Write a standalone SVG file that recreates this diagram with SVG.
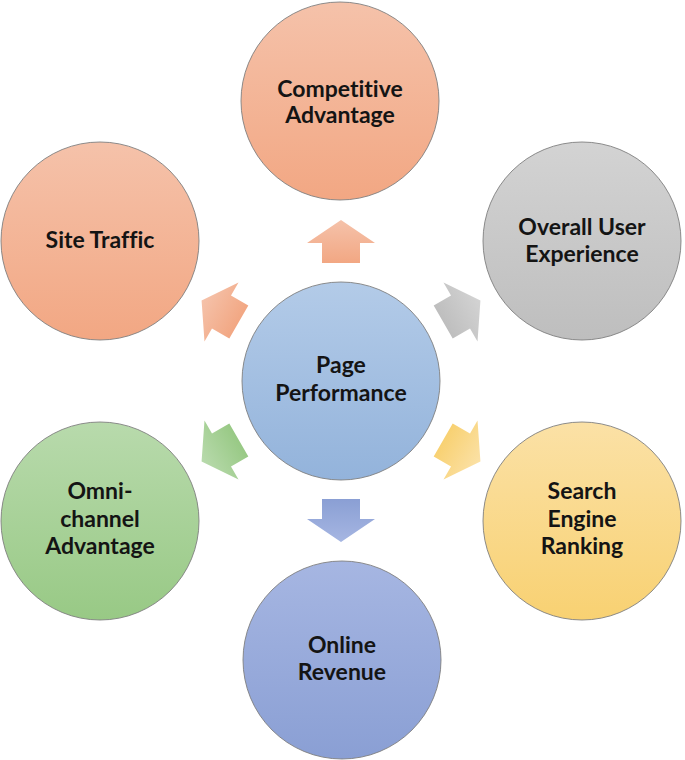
<svg xmlns="http://www.w3.org/2000/svg" width="685" height="760" viewBox="0 0 685 760">
<defs>
<linearGradient id="gOrange" x1="0" y1="0" x2="0" y2="1"><stop offset="0" stop-color="#F5C2AA"/><stop offset="1" stop-color="#F2A783"/></linearGradient>
<linearGradient id="gGray" x1="0" y1="0" x2="0" y2="1"><stop offset="0" stop-color="#D3D3D3"/><stop offset="1" stop-color="#BEBEBE"/></linearGradient>
<linearGradient id="gBlue" x1="0" y1="0" x2="0" y2="1"><stop offset="0" stop-color="#B3CBE8"/><stop offset="1" stop-color="#93B3DB"/></linearGradient>
<linearGradient id="gGreen" x1="0" y1="0" x2="0" y2="1"><stop offset="0" stop-color="#B8DAAC"/><stop offset="1" stop-color="#98C985"/></linearGradient>
<linearGradient id="gYellow" x1="0" y1="0" x2="0" y2="1"><stop offset="0" stop-color="#FBE1A6"/><stop offset="1" stop-color="#F8D172"/></linearGradient>
<linearGradient id="gViolet" x1="0" y1="0" x2="0" y2="1"><stop offset="0" stop-color="#A6B6E2"/><stop offset="1" stop-color="#8A9FD4"/></linearGradient>
<path id="arrow" d="M-19,0 L-19,-20 L-34,-20 L0,-43 L34,-20 L19,-20 L19,0 Z"/>
</defs>
<style>
.node circle{stroke:#7f7f7f;stroke-width:0.9}
.node text{font-family:Lato,"Open Sans","Liberation Sans",sans-serif;font-weight:bold;font-size:23px;fill:#141414;text-anchor:middle;font-variant-ligatures:none}
</style>
<g id="connectors">
<use href="#arrow" fill="url(#gOrange)" transform="translate(341,263)"/>
<use href="#arrow" fill="url(#gGray)" transform="rotate(60 341 381) translate(341,263)"/>
<use href="#arrow" fill="url(#gYellow)" transform="rotate(120 341 381) translate(341,263)"/>
<use href="#arrow" fill="url(#gViolet)" transform="rotate(180 341 381) translate(341,263)"/>
<use href="#arrow" fill="url(#gGreen)" transform="rotate(240 341 381) translate(341,263)"/>
<use href="#arrow" fill="url(#gOrange)" transform="rotate(300 341 381) translate(341,263)"/>
</g>
<g id="competitive" class="node">
<circle cx="340" cy="101" r="99" fill="url(#gOrange)"/>
<text x="340" y="97">Competitive</text>
<text x="340" y="123">Advantage</text>
</g>
<g id="site-traffic" class="node">
<circle cx="100" cy="241" r="99" fill="url(#gOrange)"/>
<text x="100" y="248">Site Traffic</text>
</g>
<g id="overall-ux" class="node">
<circle cx="582" cy="241" r="99" fill="url(#gGray)"/>
<text x="582" y="235">Overall User</text>
<text x="582" y="262">Experience</text>
</g>
<g id="page-performance" class="node">
<circle cx="341" cy="381" r="99" fill="url(#gBlue)"/>
<text x="341" y="373">Page</text>
<text x="341" y="401">Performance</text>
</g>
<g id="omni-channel" class="node">
<circle cx="100" cy="521" r="99" fill="url(#gGreen)"/>
<text x="100" y="499">Omni-</text>
<text x="100" y="527">channel</text>
<text x="100" y="554">Advantage</text>
</g>
<g id="search-engine" class="node">
<circle cx="582" cy="521" r="99" fill="url(#gYellow)"/>
<text x="582" y="499">Search</text>
<text x="582" y="527">Engine</text>
<text x="582" y="554">Ranking</text>
</g>
<g id="online-revenue" class="node">
<circle cx="342" cy="660" r="99" fill="url(#gViolet)"/>
<text x="342" y="653">Online</text>
<text x="342" y="680">Revenue</text>
</g>
</svg>
